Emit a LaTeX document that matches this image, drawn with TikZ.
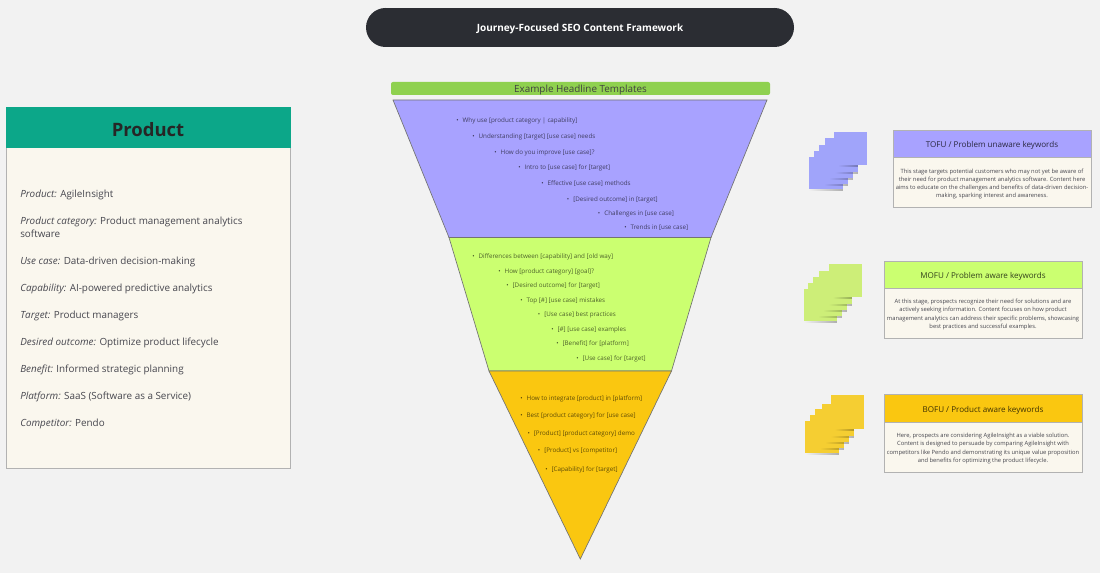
\documentclass[tikz,border=0pt]{standalone}
\usepackage{fontspec}
\setmainfont{Open Sans}
\usepackage{tikz}
\usetikzlibrary{fadings}
\definecolor{pagecol}{RGB}{242,242,242}
\definecolor{pillcol}{RGB}{43,45,51}
\definecolor{barcol}{RGB}{143,209,79}
\definecolor{tofucol}{RGB}{168,162,255}
\definecolor{mofucol}{RGB}{203,255,112}
\definecolor{bofucol}{RGB}{250,199,16}
\definecolor{tealcol}{RGB}{12,167,137}
\definecolor{creamcol}{RGB}{250,247,238}
\definecolor{inkcol}{RGB}{70,70,78}
\definecolor{tofunote}{RGB}{160,164,250}
\definecolor{mofunote}{RGB}{205,238,120}
\definecolor{bofunote}{RGB}{245,206,50}
\tikzset{
  itm/.style={anchor=west,inner sep=0pt,yshift=-0.75pt,text opacity=0.62,font=\fontsize{4.7pt}{6pt}\selectfont},
  cardtxt/.style={align=center,inner sep=0pt,yshift=-0.75pt,text=inkcol,font=\fontsize{4.35pt}{6.1pt}\selectfont},
  cardhd/.style={inner sep=0pt,yshift=-1.2pt,text opacity=0.75,font=\fontsize{6.05pt}{8pt}\selectfont},
  prod/.style={anchor=base west,inner sep=0pt,yshift=-0.75pt,text=inkcol,font=\fontsize{7.4pt}{10pt}\selectfont},
  edge/.style={draw=black!30,line width=0.5pt},
  notea/.style={fill=black,fill opacity=0.28,path fading=west},
}
\begin{document}
\begin{tikzpicture}[x=0.75pt,y=-0.75pt]
  \useasboundingbox (0,0) rectangle (1100,573);
  \fill[pagecol] (0,0) rectangle (1100,573);
  \fill[pillcol] (385.5,8) rectangle (774.5,47);
  \fill[pillcol] (385.5,27.5) circle[radius=19.5];
  \fill[pillcol] (774.5,27.5) circle[radius=19.5];
  \node[text=white,yshift=-0.75pt,font=\fontsize{7.5pt}{10pt}\selectfont\bfseries] (title) at (580,27.5) {Journey-Focused SEO Content Framework};
  \fill[barcol,rounded corners=1.5pt] (391,82) rectangle (770,95);
  \node[text=black!75,yshift=-0.75pt,font=\fontsize{7.4pt}{9pt}\selectfont] (headline) at (580.5,88.5) {Example Headline Templates};
  \filldraw[fill=tofucol,draw=black!55,line width=0.5pt] (393,100) -- (767,100) -- (711,237.5) -- (449,237.5) -- cycle;
  \filldraw[fill=mofucol,draw=black!55,line width=0.5pt] (449,237.5) -- (711,237.5) -- (671.5,371) -- (489,371) -- cycle;
  \filldraw[fill=bofucol,draw=black!55,line width=0.5pt] (489,371) -- (671.5,371) -- (580.3,559) -- cycle;
  \node[itm] (t1) at (456,119.7) {•\hspace{3pt}Why use [product category | capability]};
  \node[itm] (t2) at (472,135.7) {•\hspace{3pt}Understanding [target] [use case] needs};
  \node[itm] (t3) at (494,151.7) {•\hspace{3pt}How do you improve [use case]?};
  \node[itm] (t4) at (518,167) {•\hspace{3pt}Intro to [use case] for [target]};
  \node[itm] (t5) at (541,183) {•\hspace{3pt}Effective [use case] methods};
  \node[itm] (t6) at (566.7,198.7) {•\hspace{3pt}[Desired outcome] in [target]};
  \node[itm] (t7) at (597.7,212.7) {•\hspace{3pt}Challenges in [use case]};
  \node[itm] (t8) at (624,226.5) {•\hspace{3pt}Trends in [use case]};
  \node[itm] (m1) at (472,256.3) {•\hspace{3pt}Differences between [capability] and [old way]};
  \node[itm] (m2) at (498,271) {•\hspace{3pt}How [product category] [goal]?};
  \node[itm] (m3) at (506,285.3) {•\hspace{3pt}[Desired outcome] for [target]};
  \node[itm] (m4) at (520,299.7) {•\hspace{3pt}Top [\#] [use case] mistakes};
  \node[itm] (m5) at (537.7,314.3) {•\hspace{3pt}[Use case] best practices};
  \node[itm] (m6) at (551,328.7) {•\hspace{3pt}[\#] [use case] examples};
  \node[itm] (m7) at (556,343) {•\hspace{3pt}[Benefit] for [platform]};
  \node[itm] (m8) at (576,357.5) {•\hspace{3pt}[Use case] for [target]};
  \node[itm] (b1) at (520,398.3) {•\hspace{3pt}How to integrate [product] in [platform]};
  \node[itm] (b2) at (520,415.3) {•\hspace{3pt}Best [product category] for [use case]};
  \node[itm] (b3) at (527.3,432.7) {•\hspace{3pt}[Product] [product category] demo};
  \node[itm] (b4) at (537.7,449.7) {•\hspace{3pt}[Product] vs [competitor]};
  \node[itm] (b5) at (545,468.7) {•\hspace{3pt}[Capability] for [target]};
  \filldraw[fill=creamcol,draw=black!30,line width=0.6pt] (6,147.5) rectangle (290,468);
  \filldraw[fill=tealcol,draw=tealcol] (6,107.5) rectangle (290,147.5);
  \node[text=black!85,yshift=-0.75pt,font=\fontsize{13.85pt}{18pt}\selectfont\bfseries] (prodhd) at (148,129) {Product};
  \node[prod] (p1) at (20,196.5) {\textit{Product:} AgileInsight};
  \node[prod] (p2) at (20,223.5) {\textit{Product category:} Product management analytics};
  \node[prod] (p2b) at (20,237) {software};
  \node[prod] (p3) at (20,264) {\textit{Use case:} Data-driven decision-making};
  \node[prod] (p4) at (20,291) {\textit{Capability:} AI-powered predictive analytics};
  \node[prod] (p5) at (20,318) {\textit{Target:} Product managers};
  \node[prod] (p6) at (20,345) {\textit{Desired outcome:} Optimize product lifecycle};
  \node[prod] (p7) at (20,372) {\textit{Benefit:} Informed strategic planning};
  \node[prod] (p8) at (20,399) {\textit{Platform:} SaaS (Software as a Service)};
  \node[prod] (p9) at (20,426) {\textit{Competitor:} Pendo};
  \filldraw[fill=creamcol,edge] (893.3,157) rectangle (1091,207.3);
  \filldraw[fill=tofucol,edge] (893.3,130) rectangle (1091,157);
  \node[cardhd] (tofuhd) at (992,143.5) {TOFU / Problem unaware keywords};
  \node[cardtxt] (tofutxt) at (992,182.7) {This stage targets potential customers who may not yet be aware of\\their need for product management analytics software. Content here\\aims to educate on the challenges and benefits of data-driven decision-\\making, sparking interest and awareness.};
  \filldraw[fill=creamcol,edge] (884.3,288) rectangle (1082.3,338);
  \filldraw[fill=mofucol,edge] (884.3,261) rectangle (1082.3,288);
  \node[cardhd] (mofuhd) at (983,274.5) {MOFU / Problem aware keywords};
  \node[cardtxt] (mofutxt) at (983,313.5) {At this stage, prospects recognize their need for solutions and are\\actively seeking information. Content focuses on how product\\management analytics can address their specific problems, showcasing\\best practices and successful examples.};
  \filldraw[fill=creamcol,edge] (884.3,422.3) rectangle (1082.3,472.3);
  \filldraw[fill=bofucol,edge] (884.3,394.7) rectangle (1082.3,422.3);
  \node[cardhd] (bofuhd) at (983,408.5) {BOFU / Product aware keywords};
  \node[cardtxt] (bofutxt) at (983,447.5) {Here, prospects are considering AgileInsight as a viable solution.\\Content is designed to persuade by comparing AgileInsight with\\competitors like Pendo and demonstrating its unique value proposition\\and benefits for optimizing the product lifecycle.};
  \fill[tofunote] (808.7,156.7) rectangle (842.7,189);
  \fill[notea] (808.7,189) rectangle (842.7,191.5);
  \fill[tofunote] (814,150.7) rectangle (848,184.5);
  \fill[notea] (824,184.5) rectangle (848,186.5);
  \fill[tofunote] (819.3,145) rectangle (853.3,178.5);
  \fill[notea] (829,178.5) rectangle (853.3,180.5);
  \fill[tofunote] (825,138.3) rectangle (858.3,172);
  \fill[notea] (835,172) rectangle (858.3,174);
  \fill[tofunote] (834,132.3) rectangle (867.3,165.5);
  \fill[notea] (838,165.5) rectangle (858.3,167.5);
  \fill[mofunote] (803.7,289) rectangle (837,321.5);
  \fill[notea] (803.7,321.5) rectangle (837,323.5);
  \fill[mofunote] (808.3,283.5) rectangle (842.3,316.5);
  \fill[notea] (818,316.5) rectangle (842.3,318.5);
  \fill[mofunote] (813.3,277.5) rectangle (847.3,310.5);
  \fill[notea] (823,310.5) rectangle (847.3,312.5);
  \fill[mofunote] (819.3,271.3) rectangle (852.3,304.5);
  \fill[notea] (829,304.5) rectangle (852.3,306.5);
  \fill[mofunote] (828.7,263.7) rectangle (862,297);
  \fill[notea] (833,297) rectangle (852.3,299);
  \fill[bofunote] (805.3,421) rectangle (839,453);
  \fill[notea] (805.3,453) rectangle (839,455);
  \fill[bofunote] (810.3,415) rectangle (844.3,448);
  \fill[notea] (820,448) rectangle (844.3,450);
  \fill[bofunote] (815.3,409.3) rectangle (849.3,442);
  \fill[notea] (825,442) rectangle (849.3,444);
  \fill[bofunote] (821.7,403.7) rectangle (854.3,436);
  \fill[notea] (831,436) rectangle (854.3,438);
  \fill[bofunote] (830.7,395) rectangle (864,429.5);
  \fill[notea] (835,429.5) rectangle (854.3,431.5);
\end{tikzpicture}
\end{document}
